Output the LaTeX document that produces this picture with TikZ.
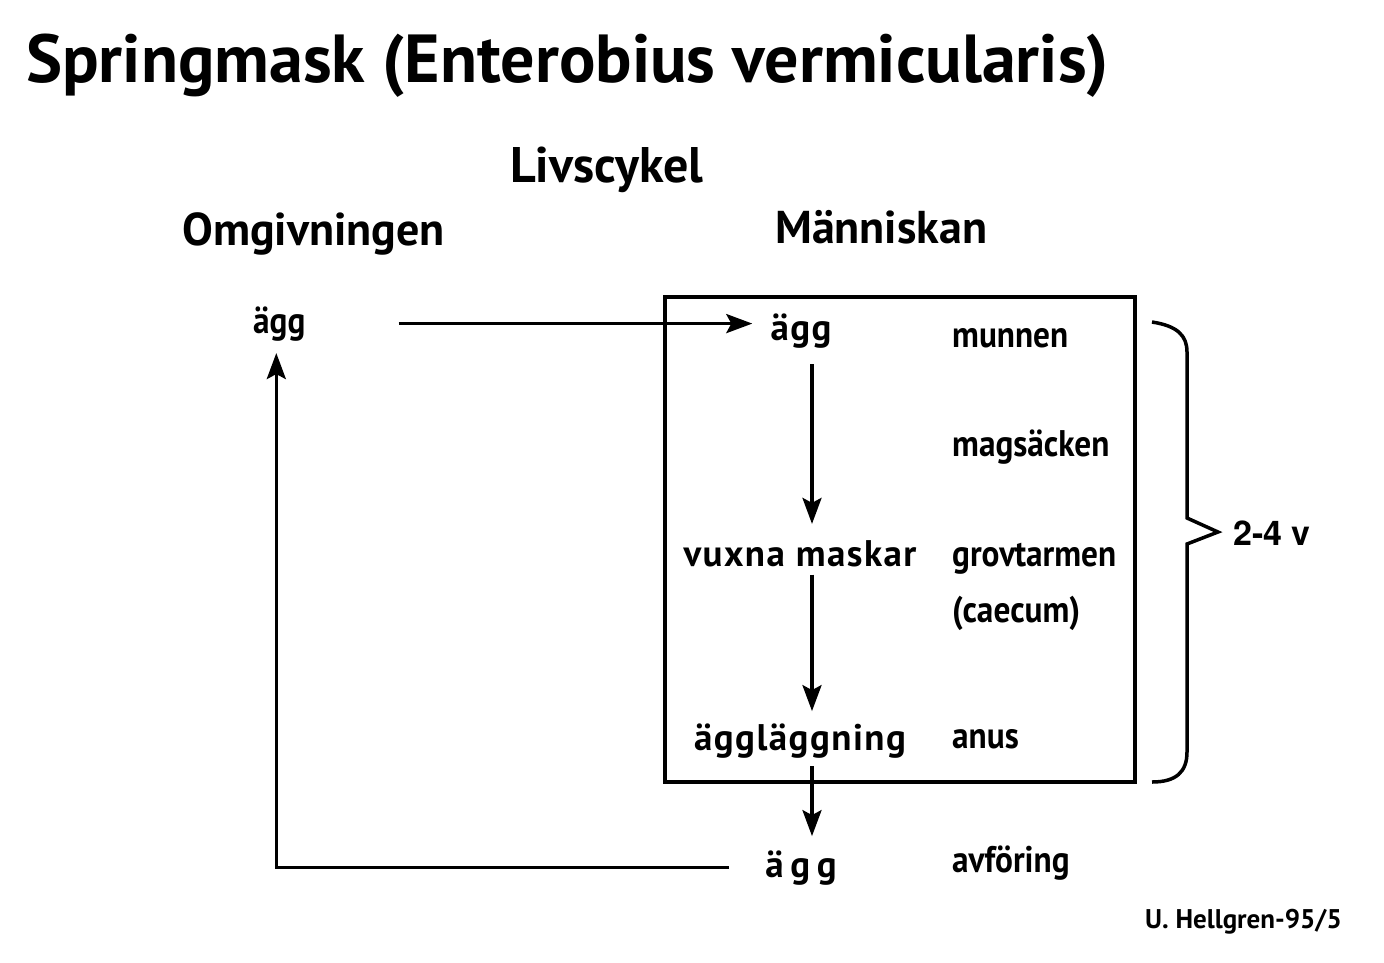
\documentclass[tikz,border=0pt]{standalone}
\usepackage{fontspec}
\setmainfont{PT Sans}
\newfontfamily\bodyfont[FakeStretch=0.9]{PT Sans}
\newfontfamily\helv{TeX Gyre Heros}
\usetikzlibrary{positioning,arrows.meta,calc}

\begin{document}
\begin{tikzpicture}[x=1pt,y=-1pt,
    lbl/.style={anchor=base west,inner sep=0pt,font=\bodyfont\fontsize{37}{40}\selectfont\bfseries},
    stage/.style={anchor=base,inner sep=0pt,font=\fontsize{37}{40}\selectfont\bfseries\addfontfeatures{LetterSpace=4}},
    flow/.style={-{Stealth[length=26pt,width=19pt,inset=5pt]},line width=3.5pt}]
    \useasboundingbox (0,0) rectangle (1384,962);
    %
    \node[anchor=base west,inner sep=0pt,font=\fontsize{68}{80}\selectfont\bfseries] (title) at (26,82) {Springmask (Enterobius vermicularis)};
    \node[anchor=base west,inner sep=0pt,font=\fontsize{50}{56}\selectfont\bfseries] (cycle) at (510,182) {Livscykel};
    \node[anchor=base west,inner sep=0pt,font=\fontsize{46}{50}\selectfont\bfseries] (env) at (182,245) {Omgivningen};
    \node[anchor=base west,inner sep=0pt,font=\fontsize{46}{50}\selectfont\bfseries] (human) at (775,243) {Människan};
    %
    \node[draw,line width=3.5pt,minimum width=470pt,minimum height=485pt,inner sep=0pt] (gut) at (900,539.5) {};
    %
    \node[lbl] (egg_out) at (253,333) {ägg};
    \node[stage] (egg_in) at (801,340) {ägg};
    \node[stage] (adults) at (800,566) {vuxna maskar};
    \node[stage] (laying) at (800,750) {äggläggning};
    \node[stage,font=\fontsize{37}{40}\selectfont\bfseries\addfontfeatures{LetterSpace=18}] (egg_off) at (801,877) {ägg};
    %
    \node[lbl] (mouth) at (952,347) {munnen};
    \node[lbl] (stomach) at (952,456) {magsäcken};
    \node[lbl] (colon) at (952,566) {grovtarmen};
    \node[lbl] (caecum) at (952,622) {(caecum)};
    \node[lbl] (anus) at (952,748) {anus};
    \node[lbl] (faeces) at (952,872) {avföring};
    %
    \node[anchor=base west,inner sep=0pt,font=\helv\fontsize{34}{40}\selectfont\bfseries] (span) at (1233,545) {2-4 v};
    \node[anchor=base east,inner sep=0pt,font=\fontsize{27}{30}\selectfont\bfseries] (sign) at (1342,928) {U. Hellgren-95/5};
    %
    \draw[flow,shorten <=93pt,shorten >=18pt] (egg_out.east) -- (egg_out.east -| egg_in.west);
    \draw[flow,shorten <=16pt,shorten >=16pt] ([xshift=11pt]egg_in.south) -- ([xshift=11pt]egg_in.south |- adults.north);
    \draw[flow,shorten <=8pt,shorten >=12pt] ([xshift=12pt]adults.south) -- ([xshift=12pt]adults.south |- laying.north);
    \draw[flow,shorten <=8pt,shorten >=14pt] ([xshift=12pt]laying.south) -- ([xshift=12pt]laying.south |- egg_off.north);
    \draw[flow,shorten <=36pt,shorten >=12pt] (egg_off.west) -| ([xshift=-3pt]egg_out.south);
    %
    \draw[line width=3.5pt] (1152,322) .. controls (1178,326) and (1187,336) .. (1187,352)
        -- (1187,518) -- (1218,532) -- (1187,544) -- (1187,752)
        .. controls (1187,772) and (1176,782) .. (1152,782);
\end{tikzpicture}
\end{document}
